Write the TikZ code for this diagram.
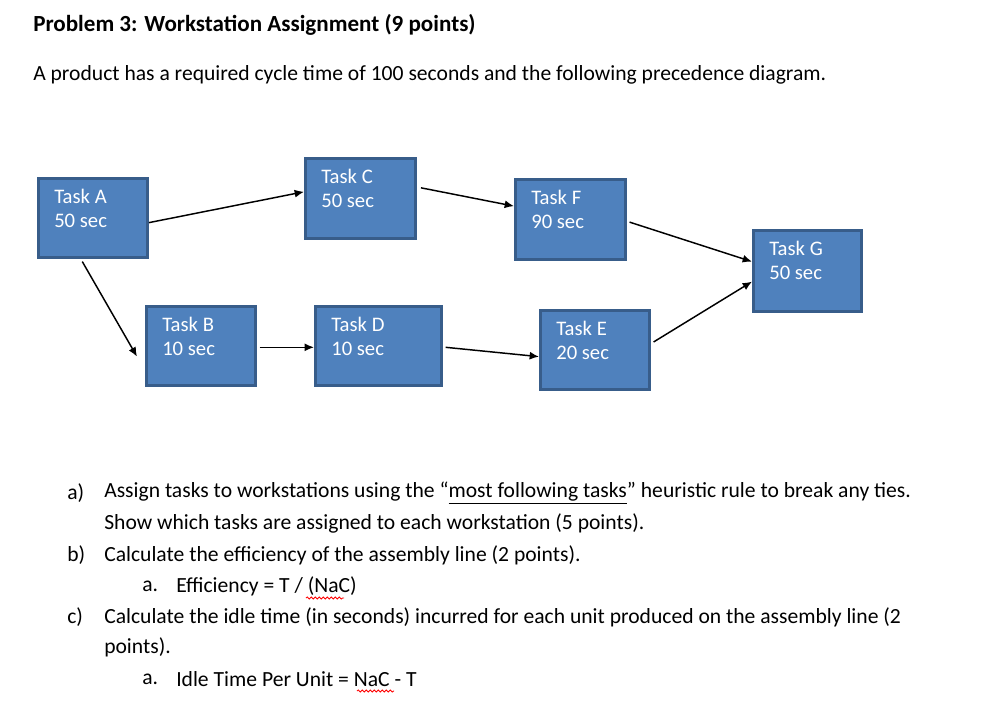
\documentclass[tikz,border=0pt]{standalone}
\usepackage{fontspec}
\setmainfont{Carlito}
\usetikzlibrary{decorations.pathmorphing,arrows.meta}
\definecolor{boxfill}{HTML}{4F81BD}
\definecolor{boxdraw}{HTML}{385D8A}
\begin{document}
\begin{tikzpicture}[x=0.75pt,y=-0.75pt,
  task/.style={draw=boxdraw,fill=boxfill,line width=2.2pt,text=white,anchor=north west,
    inner sep=0pt,align=left},
  arr/.style={-{Latex[length=7pt,width=6pt]},line width=1.1pt},
  txt/.style={anchor=west,inner sep=0pt,font=\fontsize{16.2}{19}\selectfont}]
\useasboundingbox (0,0) rectangle (998,718);
\node[anchor=west,inner sep=0pt,font=\bfseries\fontsize{17.3}{20}\selectfont] (title) at (33,25) {Problem 3: Workstation Assignment (9 points)};
\node[txt] (intro) at (33,75) {A product has a required cycle time of 100 seconds and the following precedence diagram.};
% boxes
\foreach \n/\x/\y/\w/\h/\a/\b in {A/37/177/109/79/Task A/50 sec, C/304/157/110/80/Task C/50 sec,
  F/514/178/110/80/Task F/90 sec, G/752/229/108/81/Task G/50 sec, B/145/305/109/79/Task B/10 sec,
  D/314/305/126/79/Task D/10 sec, E/539/309/109/79/Task E/20 sec}{
  \node[task,minimum width=\w*0.75pt,minimum height=\h*0.75pt] (\n) at (\x,\y) {};
  \node[anchor=north west,inner sep=0pt,text=white,font=\fontsize{15.5}{18}\selectfont,align=left] (\n t) at (\x+17,\y+12) {\a\\\b};
}
\draw[arr] ([yshift=-3.5pt]A.east) -- ([yshift=5pt]C.west);
\draw[arr] ([xshift=3pt,yshift=8pt]C.east) -- ([yshift=10pt]F.west);
\draw[arr] ([xshift=2pt,yshift=-2pt]F.east) -- ([yshift=7pt]G.west);
\draw[arr] ([xshift=-8pt,yshift=-2pt]A.south) -- ([xshift=-6pt,yshift=-8pt]B.west);
\draw[arr] ([xshift=2pt,yshift=-1pt]B.east) -- ([yshift=-1pt]D.west);
\draw[arr] ([xshift=2pt,yshift=-1pt]D.east) -- ([yshift=-5pt]E.west);
\draw[arr] ([xshift=2pt,yshift=6pt]E.east) -- ([yshift=-8pt]G.west);
% questions
\node[txt] (qa) at (67,493) {a)};
\node[txt] (ta) at (104,493) {Assign tasks to workstations using the “\underline{most following tasks}” heuristic rule to break any ties.};
\node[txt] (ta2) at (104,523) {Show which tasks are assigned to each workstation (5 points).};
\node[txt] (qb) at (67,555) {b)};
\node[txt] (tb) at (104,555) {Calculate the efficiency of the assembly line (2 points).};
\node[txt] (sa1) at (142,586) {a.};
\node[txt] (sa1t) at (176,586) {Efficiency = T / (NaC)};
\node[txt] (qc) at (67,617) {c)};
\node[txt] (tc) at (104,617) {Calculate the idle time (in seconds) incurred for each unit produced on the assembly line (2};
\node[txt] (tc2) at (104,647) {points).};
\node[txt] (sa2) at (142,679) {a.};
\node[txt] (sa2t) at (176,679) {Idle Time Per Unit = NaC - T};
\draw[red,line width=0.6pt,decorate,decoration={snake,amplitude=0.8pt,segment length=3pt}] (306,598) -- (344,598);
\draw[red,line width=0.6pt,decorate,decoration={snake,amplitude=0.8pt,segment length=3pt}] (357,691) -- (394,691);
\end{tikzpicture}
\end{document}
